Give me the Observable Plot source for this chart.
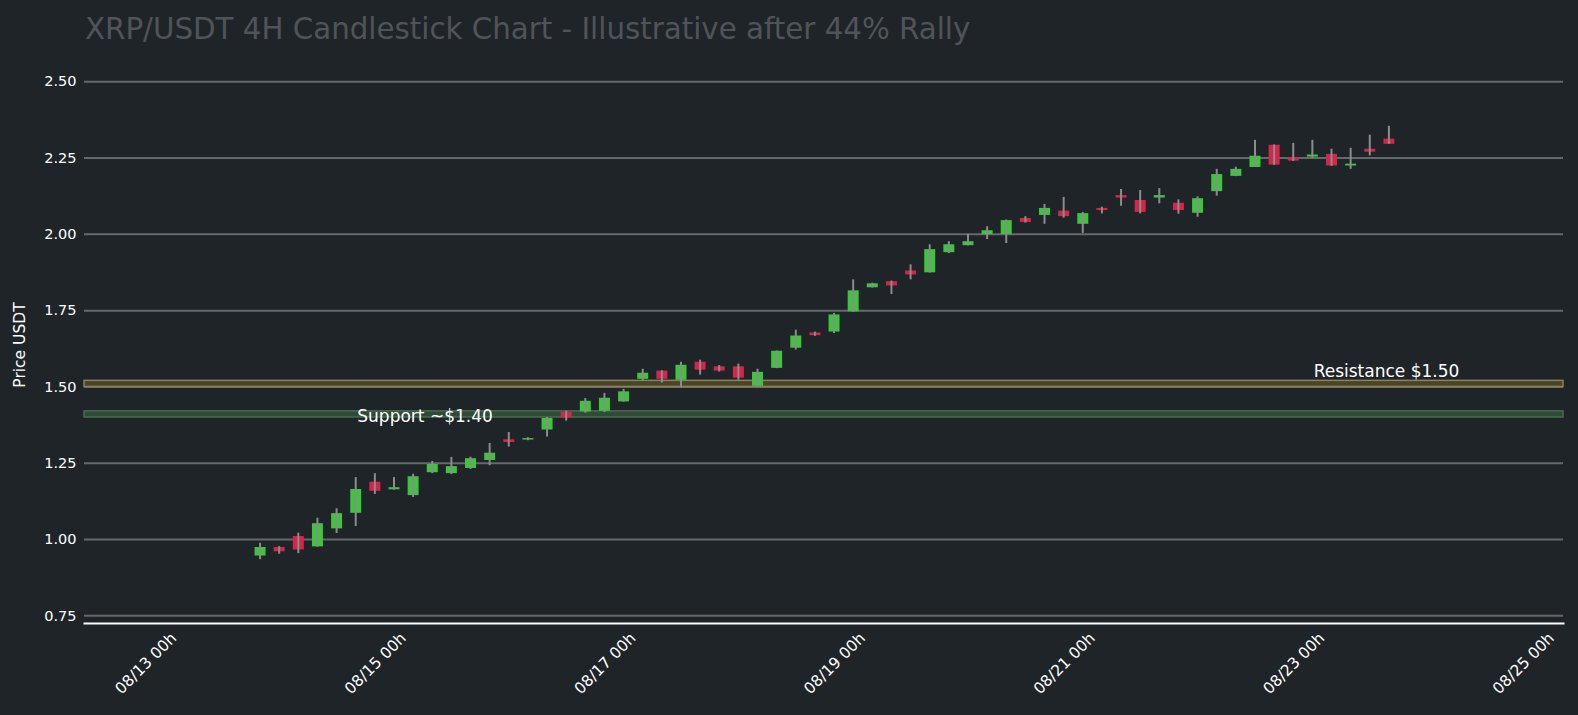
<!DOCTYPE html>
<html>
<head>
<meta charset="utf-8">
<script src="https://cdn.jsdelivr.net/npm/d3@7"></script>
<script src="https://cdn.jsdelivr.net/npm/@observablehq/plot@0.6"></script>
<style>
  html, body { margin: 0; padding: 0; background: #1f2428; }
  #wrap { position: relative; width: 1578px; height: 715px; overflow: hidden; }
  #title { position: absolute; left: 85px; top: 12px; font-family: "DejaVu Sans", sans-serif; font-size: 29.3px; line-height: normal; color: #505458; white-space: nowrap; }
  svg { display: block; }
</style>
</head>
<body>
<div id="wrap">
  <div id="chart"></div>
  <div id="title">XRP/USDT 4H Candlestick Chart - Illustrative after 44% Rally</div>
</div>
<script>
// ---- data ----
const startTime = "2025-08-13T18:00:00Z";   // first 4H candle
const opens  = [0.946,0.974,1.010,0.976,1.035,1.086,1.188,1.163,1.144,1.219,1.216,1.233,1.259,1.327,1.326,1.359,1.417,1.418,1.420,1.451,
                1.525,1.552,1.522,1.581,1.566,1.566,1.502,1.561,1.627,1.677,1.680,1.746,1.825,1.845,1.880,1.874,1.940,1.963,1.999,1.999,
                2.052,2.062,2.076,2.033,2.085,2.127,2.111,2.119,2.102,2.069,2.140,2.190,2.219,2.292,2.252,2.253,2.262,2.224,2.279,2.312];
const highs  = [0.988,0.977,1.021,1.070,1.101,1.203,1.216,1.203,1.214,1.256,1.269,1.270,1.315,1.351,1.334,1.400,1.421,1.462,1.479,1.492,
                1.558,1.553,1.581,1.588,1.570,1.575,1.558,1.618,1.686,1.680,1.741,1.851,1.840,1.847,1.900,1.966,1.976,2.000,2.025,2.047,
                2.058,2.098,2.121,2.072,2.089,2.147,2.144,2.150,2.113,2.123,2.213,2.220,2.308,2.293,2.298,2.308,2.279,2.282,2.325,2.354];
const lows   = [0.934,0.952,0.954,0.975,1.020,1.043,1.148,1.162,1.138,1.216,1.213,1.230,1.242,1.303,1.324,1.336,1.388,1.414,1.416,1.450,
                1.519,1.513,1.497,1.539,1.549,1.522,1.500,1.560,1.621,1.666,1.675,1.745,1.824,1.803,1.851,1.873,1.937,1.962,1.983,1.970,
                2.037,2.033,2.053,2.003,2.067,2.092,2.067,2.100,2.066,2.056,2.125,2.189,2.219,2.226,2.239,2.249,2.223,2.213,2.257,2.295];
const closes = [0.974,0.960,0.966,1.052,1.085,1.164,1.158,1.170,1.206,1.246,1.239,1.265,1.283,1.318,1.331,1.397,1.398,1.453,1.463,1.484,
                1.545,1.525,1.571,1.555,1.552,1.529,1.548,1.617,1.667,1.668,1.736,1.815,1.838,1.831,1.867,1.950,1.966,1.976,2.012,2.045,
                2.039,2.085,2.058,2.068,2.078,2.119,2.072,2.127,2.078,2.117,2.196,2.213,2.256,2.227,2.240,2.260,2.224,2.230,2.269,2.295];

const yTicks = [0.75, 1.00, 1.25, 1.50, 1.75, 2.00, 2.25, 2.50];
const yDomain = [0.725, 2.55];
const xTickLabels = ["2025-08-13","2025-08-15","2025-08-17","2025-08-19","2025-08-21","2025-08-23","2025-08-25"];
const xDomain = ["2025-08-12T05:18:00Z", "2025-08-25T02:30:00Z"];

const bandNames = ["Support", "Resistance"];
const bandLow   = [1.40, 1.50];
const bandHigh  = [1.42, 1.52];

const noteTexts = ["Support ~$1.40", "Resistance $1.50"];
const noteTimes = ["2025-08-15T04:30:00Z", "2025-08-23T13:30:00Z"];
const notePrices = [1.403, 1.549];

// ---- build tables ----
const t0 = new Date(startTime);
const candles = opens.map((o, i) => ({
  date: d3.utcHour.offset(t0, 4 * i),
  open: o, high: highs[i], low: lows[i], close: closes[i],
  up: closes[i] >= o
}));
const bands = bandNames.map((n, i) => ({name: n, y1: bandLow[i], y2: bandHigh[i]}));
const notes = noteTexts.map((t, i) => ({text: t, date: new Date(noteTimes[i]), price: notePrices[i]}));

const GREEN = "#3ec43e", RED = "#d4254a";
const font = "'DejaVu Sans', sans-serif";

const chart = Plot.plot({
  width: 1578,
  height: 715,
  marginLeft: 84,
  marginRight: 15,
  marginTop: 66,
  marginBottom: 92,
  style: {background: "#1f2428", color: "white", fontFamily: font, fontSize: "14px"},
  x: {type: "utc", domain: xDomain.map(d => new Date(d))},
  y: {domain: yDomain},
  marks: [
    Plot.ruleY(yTicks, {stroke: "#66696c", strokeWidth: 2}),
    Plot.rect(bands.filter(b => b.name === "Support"), {y1: "y1", y2: "y2", fill: "#304a38", stroke: "#486c50", strokeWidth: 1.5}),
    Plot.rect(bands.filter(b => b.name === "Resistance"), {y1: "y1", y2: "y2", fill: "#4a4529", stroke: "#8a8259", strokeWidth: 1.5}),
    Plot.ruleX(candles, {x: "date", y1: "open", y2: "close", stroke: d => d.up ? GREEN : RED, strokeWidth: 11}),
    Plot.ruleX(candles, {x: "date", y1: "low", y2: "high", stroke: "#8c8c8c", strokeWidth: 2}),
    Plot.text(notes, {x: "date", y: "price", text: "text", fill: "white", fontSize: 17, textAnchor: "middle", lineAnchor: "middle", fontFamily: font}),
    Plot.axisY({ticks: yTicks, tickFormat: d3.format(".2f"), tickSize: 0, tickPadding: 8, label: null, fill: "white", fontSize: 14.5}),
    Plot.axisX({ticks: xTickLabels.map(d => new Date(d + "T00:00:00Z")), tickFormat: d3.utcFormat("%m/%d %Hh"), tickRotate: -45, tickSize: 0, tickPadding: 12, label: null, fill: "white", fontSize: 15.5}),
    Plot.text(["Price USDT"], {frameAnchor: "left", textAnchor: "middle", rotate: -90, dx: -64, fill: "white", fontSize: 15.5, fontFamily: font}),
    Plot.frame({anchor: "bottom", stroke: "white", strokeWidth: 2})
  ]
});
document.getElementById("chart").appendChild(chart);
</script>
</body>
</html>
